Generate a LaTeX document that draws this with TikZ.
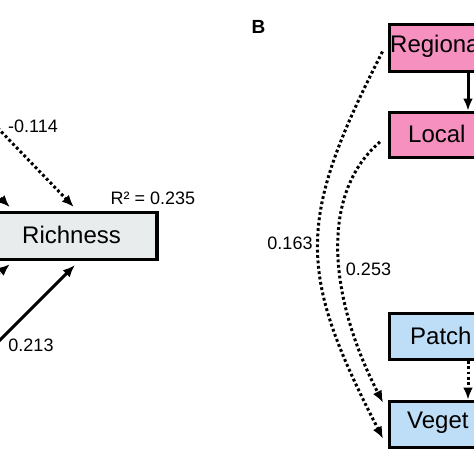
\documentclass[tikz,border=0pt]{standalone}
\usepackage{fontspec}
\setmainfont{Liberation Sans}
\usetikzlibrary{arrows.meta,calc}
\definecolor{pinkbox}{HTML}{F590BF}
\definecolor{bluebox}{HTML}{BEDDF6}
\definecolor{greybox}{HTML}{E8ECEC}
\begin{document}
\begin{tikzpicture}[x=1pt,y=-1pt,
  box/.style={draw=black,line width=3.2pt,inner sep=0pt,minimum width=130pt},
  lbl/.style={font=\fontsize{18}{20}\selectfont,inner sep=0pt},
  boxtxt/.style={font=\fontsize{24}{26}\selectfont,inner sep=0pt,anchor=base west},
  dotline/.style={line width=3pt,dash pattern=on 2.8pt off 2.6pt},
  solidline/.style={line width=3pt},
  arr/.style={-{Latex[length=12pt,width=10pt]}},
]
\useasboundingbox (0,0) rectangle (474,474);
\clip (0,0) rectangle (474,474);
\fill[white] (0,0) rectangle (474,474);

% ---------- panel A (partial) ----------
\node[box,fill=greybox,minimum width=200pt,minimum height=47pt,anchor=north east] (rich) at (158.5,210.5) {};
\node[boxtxt] (richtxt) at (22,243.3) {Richness};

\coordinate (p1) at (-10,120);
\coordinate (p2) at (-15,183);
\coordinate (p3) at (-15,285);
\coordinate (p4) at (-12,352);
\draw[dotline,arr] (p1) -- ($(rich.north west)+(118.5,-3.5)$);
\draw[dotline,arr] (p2) -- ($(rich.north west)+(54.5,-3.5)$);
\draw[dotline,arr] (p3) -- ($(rich.south west)+(54.5,3.5)$);
\draw[solidline,arr] (p4) -- ($(rich.south west)+(119.5,4.5)$);

\node[lbl] (l114) at (33,126) {-0.114};
\node[lbl] (lr2) at (153,198) {R² = 0.235};
\node[lbl] (l213) at (31,345) {0.213};

% ---------- panel B ----------
\node[font=\fontsize{19}{21}\selectfont\bfseries,inner sep=0pt] (B) at (258.5,27) {B};

\node[box,fill=pinkbox,minimum height=47pt,anchor=north west] (reg) at (387.5,22.5) {};
\node[box,fill=pinkbox,minimum height=45.5pt,anchor=north west] (loc) at (387.5,110.5) {};
\node[box,fill=bluebox,minimum height=46pt,anchor=north west] (pat) at (387.5,311.5) {};
\node[box,fill=bluebox,minimum height=46pt,anchor=north west] (veg) at (387.5,399.5) {};

\node[boxtxt] (regtxt) at (390,52.7) {Regiona};
\node[boxtxt] (loctxt) at (408,142.7) {Local};
\node[boxtxt] (pattxt) at (410,344) {Patch};
\node[boxtxt] (vegtxt) at (407,428.3) {Veget};

\coordinate (vx) at (468,0);
\draw[solidline,arr] (reg.south -| vx) -- (loc.north -| vx);
\draw[dotline,arr] (pat.south -| vx) -- (veg.north -| vx);

\draw[dotline,arr] ($(reg.west)+(-5,4)$) .. controls (296.5,220) and (296.5,271) .. ($(veg.west)+(-4.5,14.5)$);
\draw[dotline,arr] ($(loc.west)+(-7.5,7)$) .. controls (318,195) and (330,300) .. ($(veg.west)+(-4.5,-21.5)$);

\node[lbl] (l163) at (290,243) {0.163};
\node[lbl] (l253) at (368.5,269) {0.253};
\end{tikzpicture}
\end{document}
